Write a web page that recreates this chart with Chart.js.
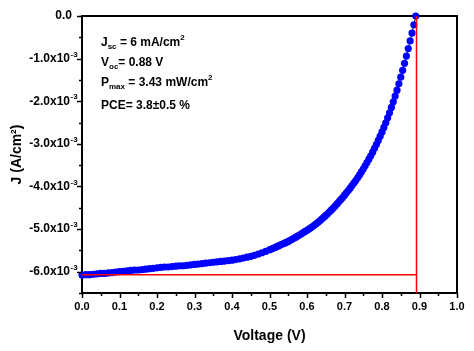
<!DOCTYPE html>
<html>
<head>
<meta charset="utf-8">
<script src="https://cdn.jsdelivr.net/npm/chart.js@4.4.1/dist/chart.umd.min.js"></script>
<style>
  html, body { margin: 0; padding: 0; background: #fff; }
  #wrap { width: 474px; height: 351px; }
</style>
</head>
<body>
<div id="wrap"><canvas id="jvChart"></canvas></div>
<script>
// J-V curve (V in volts, J in A/cm2)
const voltage = [
  0.00, 0.01, 0.02, 0.03, 0.04, 0.05, 0.06, 0.07, 0.08, 0.09,
  0.10, 0.11, 0.12, 0.13, 0.14, 0.15, 0.16, 0.17, 0.18, 0.19,
  0.20, 0.21, 0.22, 0.23, 0.24, 0.25, 0.26, 0.27, 0.28, 0.29,
  0.30, 0.31, 0.32, 0.33, 0.34, 0.35, 0.36, 0.37, 0.38, 0.39,
  0.40, 0.41, 0.42, 0.43, 0.44, 0.45, 0.46, 0.47, 0.48, 0.49,
  0.500, 0.505, 0.510, 0.515, 0.520, 0.525, 0.530, 0.535, 0.540, 0.545,
  0.550, 0.555, 0.560, 0.565, 0.570, 0.575, 0.580, 0.585, 0.590, 0.595,
  0.600, 0.605, 0.610, 0.615, 0.620, 0.625, 0.630, 0.635, 0.640, 0.645,
  0.650, 0.655, 0.660, 0.665, 0.670, 0.675, 0.680, 0.685, 0.690, 0.695,
  0.700, 0.705, 0.710, 0.715, 0.720, 0.725, 0.730, 0.735, 0.740, 0.745,
  0.750, 0.755, 0.760, 0.765, 0.770, 0.775, 0.780, 0.785, 0.790, 0.795,
  0.800, 0.805, 0.810, 0.815, 0.820, 0.825, 0.830, 0.835, 0.840, 0.845,
  0.850, 0.855, 0.860, 0.865, 0.870, 0.875, 0.880, 0.885, 0.890
];
const currentDensity = [
  -6.08e-3, -6.07e-3, -6.07e-3, -6.06e-3, -6.05e-3, -6.04e-3, -6.04e-3, -6.03e-3, -6.02e-3, -6.01e-3,
  -6.00e-3, -5.99e-3, -5.98e-3, -5.97e-3, -5.96e-3, -5.96e-3, -5.95e-3, -5.94e-3, -5.93e-3, -5.92e-3,
  -5.91e-3, -5.90e-3, -5.89e-3, -5.89e-3, -5.88e-3, -5.87e-3, -5.86e-3, -5.86e-3, -5.85e-3, -5.84e-3,
  -5.83e-3, -5.82e-3, -5.81e-3, -5.80e-3, -5.79e-3, -5.78e-3, -5.77e-3, -5.76e-3, -5.75e-3, -5.74e-3,
  -5.73e-3, -5.715e-3, -5.70e-3, -5.68e-3, -5.66e-3, -5.64e-3, -5.615e-3, -5.585e-3, -5.555e-3, -5.525e-3,
  -5.49e-3, -5.47e-3, -5.45e-3, -5.43e-3, -5.41e-3, -5.39e-3, -5.37e-3, -5.35e-3, -5.33e-3, -5.31e-3,
  -5.29e-3, -5.265e-3, -5.24e-3, -5.215e-3, -5.19e-3, -5.165e-3, -5.14e-3, -5.11e-3, -5.08e-3, -5.055e-3,
  -5.03e-3, -5.00e-3, -4.97e-3, -4.94e-3, -4.905e-3, -4.87e-3, -4.835e-3, -4.80e-3, -4.76e-3, -4.72e-3,
  -4.68e-3, -4.64e-3, -4.595e-3, -4.55e-3, -4.505e-3, -4.46e-3, -4.41e-3, -4.36e-3, -4.31e-3, -4.26e-3,
  -4.205e-3, -4.15e-3, -4.095e-3, -4.04e-3, -3.98e-3, -3.92e-3, -3.86e-3, -3.795e-3, -3.73e-3, -3.66e-3,
  -3.59e-3, -3.515e-3, -3.44e-3, -3.36e-3, -3.28e-3, -3.195e-3, -3.105e-3, -3.015e-3, -2.92e-3, -2.82e-3,
  -2.72e-3, -2.615e-3, -2.505e-3, -2.39e-3, -2.27e-3, -2.145e-3, -2.015e-3, -1.88e-3, -1.74e-3, -1.59e-3,
  -1.435e-3, -1.275e-3, -1.11e-3, -0.94e-3, -0.765e-3, -0.585e-3, -0.40e-3, -0.205e-3, 0.00
];

// red guide lines at Jsc and Voc
const jscLevel = -6.07e-3;
const vocLevel = 0.892;

// y tick labels (mantissa + exponent)
const yTickValues = [0, -1e-3, -2e-3, -3e-3, -4e-3, -5e-3, -6e-3];
const yTickText = ['0.0', '-1.0x10', '-2.0x10', '-3.0x10', '-4.0x10', '-5.0x10', '-6.0x10'];
const yTickExp = ['', '-3', '-3', '-3', '-3', '-3', '-3'];

// text box: [text, 'sub' | 'sup' | '']
const infoLines = [
  [['J', ''], ['sc', 'sub'], [' = 6 mA/cm', ''], ['2', 'sup']],
  [['V', ''], ['oc', 'sub'], ['= 0.88 V', '']],
  [['P', ''], ['max', 'sub'], [' = 3.43 mW/cm', ''], ['2', 'sup']],
  [['PCE= 3.8\u00b10.5 %', '']]
];

const FONT = '"Liberation Sans", Arial, sans-serif';

const curvePoints = voltage.map((v, i) => ({ x: v, y: currentDensity[i] }));

const extras = {
  id: 'extras',
  beforeDatasetsDraw(chart) {
    const { ctx, chartArea: a } = chart;
    ctx.save();
    ctx.strokeStyle = '#000';
    ctx.lineWidth = 2;
    ctx.strokeRect(a.left, a.top, a.right - a.left, a.bottom - a.top);
    ctx.restore();
  },
  afterDraw(chart) {
    const { ctx, chartArea: a } = chart;
    const xs = chart.scales.x, ys = chart.scales.y;
    ctx.save();
    ctx.strokeStyle = '#000';
    ctx.lineWidth = 1.5;

    // tick marks
    xs.ticks.forEach(t => {
      const px = Math.round(xs.getPixelForValue(t.value)) + 0.5;
      const major = Math.round(t.value / 0.05) % 2 === 0;
      ctx.beginPath();
      ctx.moveTo(px, a.bottom);
      ctx.lineTo(px, a.bottom + (major ? 5 : 3));
      ctx.stroke();
    });
    ys.ticks.forEach(t => {
      const py = Math.round(ys.getPixelForValue(t.value)) + 0.5;
      const major = Math.round(t.value / 0.0005) % 2 === 0;
      ctx.beginPath();
      ctx.moveTo(a.left, py);
      ctx.lineTo(a.left - (major ? 5 : 3), py);
      ctx.stroke();
    });

    // y tick labels with exponent
    ctx.fillStyle = '#000';
    ctx.textBaseline = 'middle';
    yTickValues.forEach((v, i) => {
      const py = ys.getPixelForValue(v);
      ctx.font = 'bold 12px ' + FONT;
      ctx.textAlign = 'right';
      ctx.fillText(yTickText[i], yTickExp[i] ? 70 : 72, py);
      if (yTickExp[i]) {
        ctx.font = 'bold 8px ' + FONT;
        ctx.textAlign = 'left';
        ctx.fillText(yTickExp[i], 70.5, py - 4);
      }
    });

    // info text
    const lineY = [43, 63, 83, 106];
    ctx.textAlign = 'left';
    infoLines.forEach((parts, li) => {
      let x = 101;
      parts.forEach(([txt, kind]) => {
        let dy = 0;
        if (kind === 'sub') { ctx.font = 'bold 8px ' + FONT; dy = 4; }
        else if (kind === 'sup') { ctx.font = 'bold 8px ' + FONT; dy = -5; }
        else { ctx.font = 'bold 12px ' + FONT; }
        ctx.fillText(txt, x, lineY[li] + dy);
        x += ctx.measureText(txt).width;
      });
    });
    ctx.restore();
  }
};

new Chart(document.getElementById('jvChart').getContext('2d'), {
  type: 'scatter',
  data: {
    datasets: [
      {
        data: [{ x: 0, y: jscLevel }, { x: vocLevel, y: jscLevel }],
        showLine: true,
        borderColor: '#ff0000',
        borderWidth: 1.5,
        pointRadius: 0,
        clip: false
      },
      {
        data: [{ x: vocLevel, y: 0 }, { x: vocLevel, y: -6.5e-3 }],
        showLine: true,
        borderColor: '#ff0000',
        borderWidth: 1.5,
        pointRadius: 0,
        clip: false
      },
      {
        data: curvePoints,
        showLine: true,
        borderColor: '#000',
        borderWidth: 1,
        pointRadius: 3.6,
        pointBackgroundColor: '#0000ff',
        pointBorderColor: '#0000ff',
        pointBorderWidth: 0,
        clip: false
      }
    ]
  },
  options: {
    responsive: true,
    maintainAspectRatio: false,
    animation: false,
    layout: { padding: { top: 16, right: 17, left: 0, bottom: 0 } },
    plugins: {
      legend: { display: false },
      tooltip: { enabled: false }
    },
    scales: {
      x: {
        type: 'linear',
        min: 0,
        max: 1.0,
        grid: { display: false, drawTicks: false },
        border: { display: false },
        ticks: {
          stepSize: 0.05,
          autoSkip: false,
          maxRotation: 0,
          padding: 7,
          color: '#000',
          font: { family: FONT, size: 11, weight: 'bold' },
          callback: v => (Math.round(v / 0.05) % 2 === 0 ? v.toFixed(1) : '')
        },
        title: {
          display: true,
          text: 'Voltage (V)',
          color: '#000',
          font: { family: FONT, size: 14, weight: 'bold' },
          padding: { top: 0, bottom: 6 }
        },
        afterFit: s => { s.height = 58; }
      },
      y: {
        type: 'linear',
        min: -6.5e-3,
        max: 0,
        grid: { display: false, drawTicks: false },
        border: { display: false },
        ticks: { stepSize: 0.5e-3, display: false },
        title: {
          display: true,
          text: 'J (A/cm\u00b2)',
          color: '#000',
          font: { family: FONT, size: 14, weight: 'bold' },
          padding: { top: 9, bottom: 0 }
        },
        afterFit: s => { s.width = 82; }
      }
    }
  },
  plugins: [extras]
});
</script>
</body>
</html>
